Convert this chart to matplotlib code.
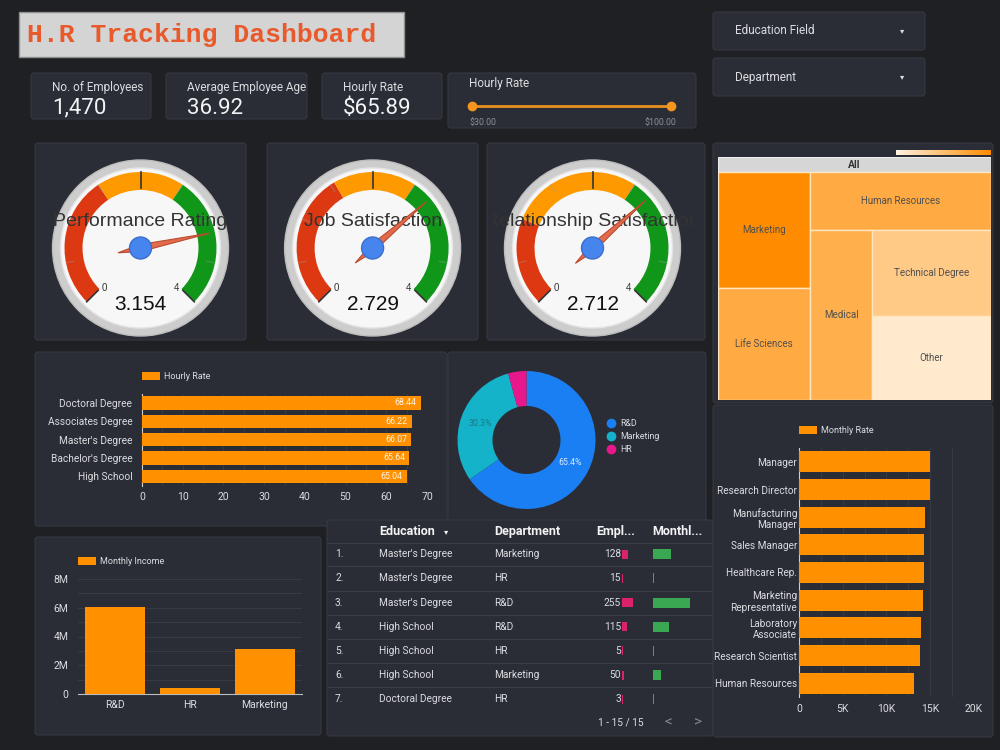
import numpy as np
import matplotlib
matplotlib.use('Agg')
import matplotlib.pyplot as plt
from matplotlib.patches import FancyBboxPatch, Rectangle, Circle, Wedge, Polygon
from matplotlib.lines import Line2D
from matplotlib.colors import LinearSegmentedColormap

plt.rcParams['font.family'] = ['Roboto', 'DejaVu Sans']

# ---------------- data ----------------
kpi_labels = ['No. of Employees', 'Average Employee Age', 'Hourly Rate']
kpi_values = ['1,470', '36.92', '$65.89']
slider_range = [30, 100]
slider_sel = [30, 100]
filters = ['Education Field', 'Department']

gauge_titles = ['Performance Rating', 'Job Satisfaction', 'Relationship Satisfaction']
gauge_values = [3.154, 2.729, 2.712]
gauge_red_to = [1.5, 1.55, 1.0]
gauge_yellow_to = [2.5, 2.5, 2.5]
gauge_max = 4

edu_fields = ['Marketing', 'Life Sciences', 'Human Resources', 'Medical', 'Technical Degree', 'Other']
edu_size = [10.7, 10.3, 10.5, 10.5, 10.2, 10.0]
edu_shade = [1.0, 0.70, 0.70, 0.66, 0.40, 0.08]

education = ['Doctoral Degree', 'Associates Degree', "Master's Degree", "Bachelor's Degree", 'High School']
hourly_rate = [68.44, 66.22, 66.07, 65.64, 65.04]

depts = ['R&D', 'Marketing', 'HR']
dept_count = [961, 446, 63]

income_depts = ['R&D', 'HR', 'Marketing']
monthly_income = [6.04e6, 0.42e6, 3.10e6]

job_roles = ['Manager', 'Research Director', 'Manufacturing\nManager', 'Sales Manager',
             'Healthcare Rep.', 'Marketing\nRepresentative', 'Laboratory\nAssociate',
             'Research Scientist', 'Human Resources']
monthly_rate = [15020, 15000, 14440, 14370, 14370, 14180, 13980, 13900, 13180]

tbl_edu = ["Master's Degree", "Master's Degree", "Master's Degree", 'High School',
           'High School', 'High School', 'Doctoral Degree']
tbl_dept = ['Marketing', 'HR', 'R&D', 'R&D', 'HR', 'Marketing', 'HR']
tbl_empl = [128, 15, 255, 115, 5, 50, 3]
tbl_income = [0.86e6, 0.07e6, 1.70e6, 0.78e6, 0.03e6, 0.40e6, 0.02e6]
tbl_pager = '1 - 15 / 15'

# ---------------- style ----------------
W, H = 1000, 750
BG = '#1f2024'
PANEL = '#2a2d35'
EDGE = '#363941'
ORANGE = '#ff9100'
TXT = '#dadce0'
WHITE = '#f1f3f4'
GRID = '#3a3d46'
GFONT = 'Liberation Sans'

fig = plt.figure(figsize=(W / 100, H / 100), dpi=100, facecolor=BG)
cv = fig.add_axes([0, 0, 1, 1])
cv.set_xlim(0, W)
cv.set_ylim(H, 0)
cv.axis('off')


def box(x0, y0, x1, y1):
    return [x0 / W, 1 - y1 / H, (x1 - x0) / W, (y1 - y0) / H]


def panel(x0, y0, x1, y1, z=1):
    cv.add_patch(FancyBboxPatch((x0, y0), x1 - x0, y1 - y0,
                                boxstyle='round,pad=0,rounding_size=3',
                                fc=PANEL, ec=EDGE, lw=0.8, zorder=z))


def bar_legend(ax, y):
    ax.legend(loc='lower left', bbox_to_anchor=(0, y), frameon=False, fontsize=6.5,
              labelcolor=TXT, handlelength=2.0, handleheight=0.9, handletextpad=0.4,
              borderpad=0, borderaxespad=0)


# ---------------- header ----------------
cv.add_patch(Rectangle((19, 12), 385, 45, fc='#d4d4d4', ec='#8f8f8f', lw=1))
cv.text(27, 35, 'H.R Tracking Dashboard', family='Liberation Mono', weight='bold',
        fontsize=19, color='#e85a2c', va='center')

card_x = [(31, 151), (166, 307), (322, 442)]
for (x0, x1), lab, val in zip(card_x, kpi_labels, kpi_values):
    panel(x0, 73, x1, 119)
    cv.text(x0 + 21, 88, lab, fontsize=8.5, color=TXT, va='center')
    cv.text(x0 + 21, 108, val, fontsize=16, color=WHITE, va='center')

panel(448, 73, 696, 128)
cv.text(469, 83, 'Hourly Rate', fontsize=8.5, color=TXT, va='center')
sax = fig.add_axes(box(472, 100, 671, 112))
sax.set_xlim(*slider_range)
sax.set_ylim(-1, 1)
sax.axis('off')
sax.plot(slider_sel, [0, 0], color='#e8901f', lw=2, clip_on=False)
sax.plot(slider_sel, [0, 0], 'o', color='#f5961f', ms=6, clip_on=False)
cv.text(469, 123, f'${slider_range[0]:.2f}', fontsize=6.3, color='#8a8f98', va='center')
cv.text(676, 123, f'${slider_range[1]:.2f}', fontsize=6.3, color='#8a8f98', va='center', ha='right')

for i, name in enumerate(filters):
    y0 = 12 + i * 46
    panel(713, y0, 925, y0 + 38)
    cv.text(735, y0 + 19, name, fontsize=8.5, color=TXT, va='center')
    cv.text(902, y0 + 19, '▾', fontsize=6, color=TXT, va='center', ha='center',
            family='DejaVu Sans')

# ---------------- gauges ----------------
gauge_panels = [(35, 246), (267, 478), (487, 705)]
gauge_cx = [140.5, 372.6, 592.5]
gauge_cy = 248


def ang(v):
    return 225 - 270 * v / gauge_max


for (px0, px1), cx, title, val, r_to, y_to in zip(gauge_panels, gauge_cx, gauge_titles,
                                                  gauge_values, gauge_red_to, gauge_yellow_to):
    panel(px0, 143, px1, 340)
    ax = fig.add_axes(box(cx - 100, gauge_cy - 100, cx + 100, gauge_cy + 100))
    ax.set_xlim(-100, 100)
    ax.set_ylim(-100, 100)
    ax.axis('off')
    ax.add_patch(Circle((0, 0), 88, fc='#cdcdcd', ec='#bdbdbd', lw=1))
    ax.add_patch(Circle((0, 0), 80, fc='#f7f7f7', ec='#e4e4e4', lw=1))
    for v0, v1, c in [(0, r_to, '#dc3912'), (r_to, y_to, '#ff9900'), (y_to, gauge_max, '#109618')]:
        ax.add_patch(Wedge((0, 0), 76, ang(v1), ang(v0), width=18, fc=c, ec='none'))
    for v in np.arange(0, gauge_max + 0.01, 0.5):
        a = np.radians(ang(v))
        if v in (0, 2, 4):
            ax.plot([60 * np.cos(a), 76 * np.cos(a)], [60 * np.sin(a), 76 * np.sin(a)],
                    color='#333333', lw=1.2)
        else:
            ax.plot([68 * np.cos(a), 76 * np.cos(a)], [68 * np.sin(a), 76 * np.sin(a)],
                    color='#999999', lw=0.7, alpha=0.5)
    for v, d in [(0, 3), (gauge_max, -3)]:
        a = np.radians(ang(v) + d)
        ax.text(54 * np.cos(a), 54 * np.sin(a), str(v), fontsize=7, family=GFONT,
                color='#333333', ha='center', va='center')
    ax.text(0, 26, title, fontsize=14, family=GFONT, color='#333333',
            ha='center', va='center', clip_on=True)
    ax.text(0, -57, f'{val:.3f}', fontsize=15, family=GFONT, color='#111111',
            ha='center', va='center')
    a = np.radians(ang(val))
    u = np.array([np.cos(a), np.sin(a)])
    n = np.array([-np.sin(a), np.cos(a)])
    ax.add_patch(Polygon([71 * u, 3.5 * n, -23 * u, -3.5 * n], closed=True,
                         fc='#e36a4c', ec='#b94a2e', lw=0.8, zorder=4))
    ax.add_patch(Circle((0, 0), 11, fc='#4684ee', ec='#3b6fcb', lw=1, zorder=5))

# ---------------- treemap ----------------
panel(713, 143, 993, 403)


def split_layout(vals, x, y, w, h):
    if len(vals) == 1:
        return [(x, y, w, h)]
    k = max(1, len(vals) // 3)
    f = sum(vals[:k]) / sum(vals)
    if w >= h:
        return (split_layout(vals[:k], x, y, w * f, h) +
                split_layout(vals[k:], x + w * f, y, w * (1 - f), h))
    return (split_layout(vals[:k], x, y, w, h * f) +
            split_layout(vals[k:], x, y + h * f, w, h * (1 - f)))


tm_cmap = LinearSegmentedColormap.from_list('tm', ['#fff2e0', '#ff8c00'])
tax = fig.add_axes(box(718, 157, 991, 400))
tax.set_xlim(0, 273)
tax.set_ylim(243, 0)
tax.axis('off')
tax.add_patch(Rectangle((0, 0), 273, 15, fc='#d6d6d6', ec='#eeeeee', lw=0.8))
tax.text(136.5, 7.5, 'All', weight='bold', fontsize=7.5, color='#333333', ha='center', va='center')
for (x, y, w, h), name, s in zip(split_layout(edu_size, 0, 15, 273, 228), edu_fields, edu_shade):
    tax.add_patch(Rectangle((x, y), w, h, fc=tm_cmap(s), ec='#ffe6c2', lw=1))
    tax.text(x + w / 2, y + h / 2, name, ha='center', va='center', fontsize=7, color='#4f4f4f')
cbax = fig.add_axes(box(896, 150, 991, 155))
cbax.imshow(np.linspace(0, 1, 64)[None, :], cmap=tm_cmap, aspect='auto')
cbax.axis('off')

# ---------------- hourly rate by education ----------------
panel(35, 352, 447, 526)
ax = fig.add_axes(box(142, 393.8, 427, 485.5))
ax.set_facecolor('none')
bars = ax.barh(range(len(education)), hourly_rate, height=0.72, color=ORANGE,
               label='Hourly Rate', zorder=3)
ax.set_xlim(0, 70)
ax.set_ylim(len(education) - 0.5, -0.5)
ax.set_yticks(range(len(education)), education)
ax.set_xticks(range(0, 71, 10))
ax.set_xticks(range(0, 71, 5), minor=True)
ax.grid(axis='x', which='both', color=GRID, lw=0.6)
for s in ['top', 'right', 'bottom']:
    ax.spines[s].set_visible(False)
ax.spines['left'].set_color('#cfcfcf')
ax.tick_params(axis='y', length=0, colors=TXT, labelsize=7.3, pad=7)
ax.tick_params(axis='x', which='both', length=0, colors=TXT, labelsize=7.5, pad=4.5)
for b, v in zip(bars, hourly_rate):
    ax.text(v - 1, b.get_y() + b.get_height() / 2, f'{v:.2f}', ha='right', va='center',
            fontsize=6.3, color='#fff2e0', zorder=4)
bar_legend(ax, 1.14)

# ---------------- donut ----------------
panel(448, 352, 706, 526)
dax = fig.add_axes(box(451.5, 365, 601.5, 515))
wedges, _, autos = dax.pie(dept_count, colors=['#1a7ff2', '#15b3c9', '#e8188c'],
                           startangle=90, counterclock=False, radius=69 / 75,
                           wedgeprops=dict(width=35 / 75, edgecolor='none'),
                           autopct=lambda p: f'{p:.1f}%' if p > 10 else '',
                           pctdistance=0.715, textprops=dict(fontsize=6.3))
autos[0].set_color('#d6e6ff')
autos[1].set_color('#137a88')
dax.set_xlim(-1, 1)
dax.set_ylim(-1, 1)
handles = [Line2D([], [], marker='o', ls='', color=w.get_facecolor(), ms=6) for w in wedges]
fig.legend(handles, depts, loc='upper left', bbox_to_anchor=(607 / W, 1 - 419 / H),
           frameon=False, fontsize=6.3, labelcolor=TXT, handlelength=1.0,
           handletextpad=0.5, labelspacing=0.45, borderpad=0, borderaxespad=0)

# ---------------- monthly income by department ----------------
panel(35, 537, 321, 735)
ax = fig.add_axes(box(78, 579, 302, 694))
ax.set_facecolor('none')
ax.bar(range(len(income_depts)), monthly_income, width=0.8, color=ORANGE,
       label='Monthly Income', zorder=3)
ax.set_xlim(-0.5, len(income_depts) - 0.5)
ax.set_ylim(0, 8e6)
ax.set_xticks(range(len(income_depts)), income_depts)
ax.set_yticks(np.arange(0, 8.1e6, 2e6), ['0', '2M', '4M', '6M', '8M'])
ax.set_yticks(np.arange(0, 8.1e6, 1e6), minor=True)
ax.grid(axis='y', which='both', color=GRID, lw=0.6)
for s in ['top', 'right', 'left']:
    ax.spines[s].set_visible(False)
ax.spines['bottom'].set_color('#bdbdbd')
ax.tick_params(axis='both', which='both', length=0, colors=TXT, labelsize=7.5)
ax.tick_params(axis='y', pad=7)
ax.tick_params(axis='x', pad=4.5)
bar_legend(ax, 1.11)

# ---------------- monthly rate by job role ----------------
panel(713, 405, 993, 737)
ax = fig.add_axes(box(799.3, 448, 973.3, 697))
ax.set_facecolor('none')
ax.barh(range(len(job_roles)), monthly_rate, height=0.76, color=ORANGE,
        label='Monthly Rate', zorder=3)
ax.set_xlim(0, 20000)
ax.set_ylim(len(job_roles) - 0.5, -0.5)
ax.set_yticks(range(len(job_roles)), job_roles)
for lab in ax.get_yticklabels():
    lab.set_multialignment('right')
ax.set_xticks(range(0, 20001, 5000), ['0', '5K', '10K', '15K', '20K'])
ax.set_xticks(range(0, 20001, 2500), minor=True)
ax.grid(axis='x', which='both', color=GRID, lw=0.6)
for s in ['top', 'right', 'bottom']:
    ax.spines[s].set_visible(False)
ax.spines['left'].set_color('#cfcfcf')
ax.tick_params(axis='y', length=0, colors=TXT, labelsize=7.2, pad=1.5)
ax.tick_params(axis='x', which='both', length=0, colors=TXT, labelsize=7.5, pad=5)
bar_legend(ax, 1.052)

# ---------------- table ----------------
panel(327, 520, 713, 736, z=2)
hy = 531.7
for x, t in [(379, 'Education'), (494, 'Department'), (596, 'Empl...'), (652.5, 'Monthl...')]:
    cv.text(x, hy, t, fontsize=9, weight='bold', color=WHITE, va='center', zorder=3)
cv.text(444, hy, '▾', fontsize=6, color=WHITE, va='center', family='DejaVu Sans', zorder=3)
row_h = 24.17
row_y = 554.3 + row_h * np.arange(len(tbl_edu))
cv.hlines(np.r_[542.5, row_y[:-1] + row_h / 2], 327, 712, color='#3c3f48', lw=0.8, zorder=3)
for i, (y, e, d, n) in enumerate(zip(row_y, tbl_edu, tbl_dept, tbl_empl)):
    cv.text(335, y, f'{i + 1}.', fontsize=7.3, color=TXT, va='center', zorder=3)
    cv.text(379, y, e, fontsize=7.3, color=TXT, va='center', zorder=3)
    cv.text(494, y, d, fontsize=7.3, color=TXT, va='center', zorder=3)
    cv.text(621, y, str(n), fontsize=7.3, color=TXT, va='center', ha='right', zorder=3)
empl_w = np.maximum(np.array(tbl_empl) / max(tbl_empl) * 11, 0.8)
inc_w = np.maximum(np.array(tbl_income) / max(tbl_income) * 37, 1.0)
cv.barh(row_y, empl_w, left=622.3, height=9, color='#dc2369', zorder=3)
cv.barh(row_y, inc_w, left=652.5, height=10, color='#3aa853', zorder=3)
cv.text(598, 722, tbl_pager, fontsize=7.3, color=TXT, va='center', zorder=3)
cv.text(668, 722, '<', fontsize=11, color='#80868b', va='center', ha='center', zorder=3)
cv.text(698, 722, '>', fontsize=11, color='#80868b', va='center', ha='center', zorder=3)

fig.savefig('out.png', dpi=100, facecolor=BG)
